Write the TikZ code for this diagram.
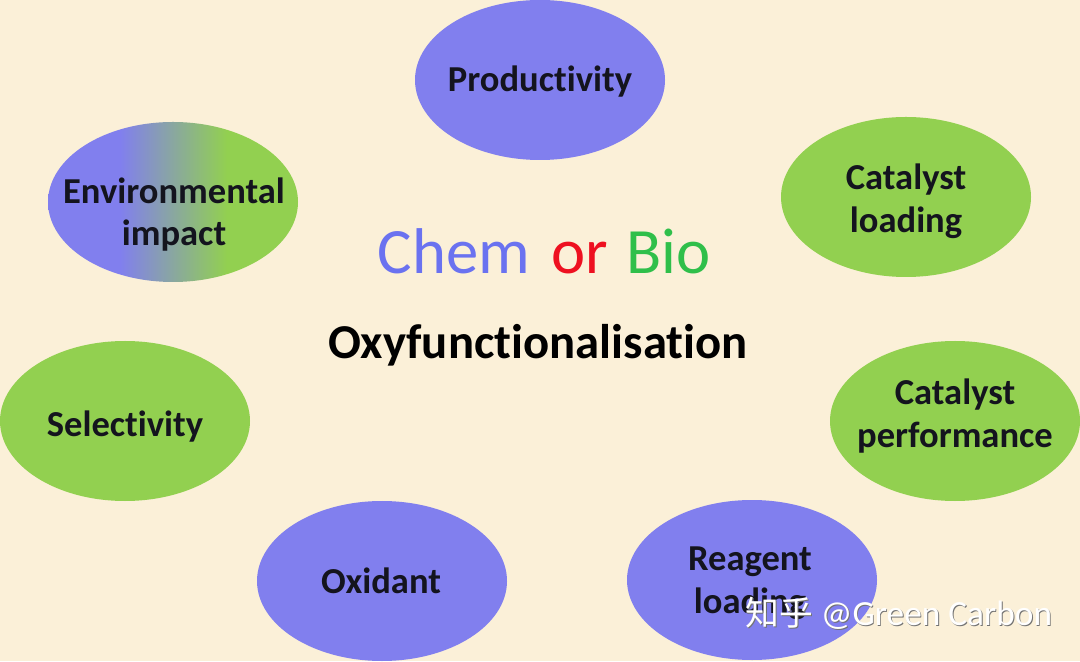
\documentclass[tikz,border=0pt]{standalone}
\usepackage{fontspec}
\setmainfont[Ligatures=NoCommon]{Carlito}
\newfontfamily\cjkfont{Noto Sans CJK SC}
\usetikzlibrary{shapes.geometric}
\definecolor{paper}{HTML}{FBF0D8}
\definecolor{oxblue}{HTML}{817FEE}
\definecolor{oxgreen}{HTML}{92D050}
\definecolor{chemblue}{HTML}{6A72F0}
\definecolor{orred}{HTML}{EE1020}
\definecolor{biogreen}{HTML}{2FBF4A}
\definecolor{labelink}{HTML}{14141E}
\pgfdeclarehorizontalshading{envshade}{100bp}{color(0bp)=(oxblue); color(39.4bp)=(oxblue); color(60.8bp)=(oxgreen); color(100bp)=(oxgreen)}
\newcommand{\marktext}[1]{\rlap{\kern0.25pt\raisebox{-0.25pt}{\textcolor{black!55}{#1}}}#1}
\tikzset{
  topic/.style={ellipse, minimum width=2.5cm, minimum height=1.6cm, inner sep=0pt},
  bluetopic/.style={topic, fill=oxblue},
  greentopic/.style={topic, fill=oxgreen},
  topiclabel/.style={align=center, inner sep=0pt, text=labelink, font=\fontsize{10.4}{12.2}\selectfont\bfseries}
}
\begin{document}
\begin{tikzpicture}
    \useasboundingbox (0, 0) rectangle (10.8, 6.61);
    \fill[paper] (0, 0) rectangle (10.8, 6.61);
    \node[bluetopic] (productivity) at (5.4, 5.81) {};
    \node[greentopic] (catalystloading) at (9.06, 4.64) {};
    \node[greentopic] (performance) at (9.55, 2.4) {};
    \node[bluetopic] (reagent) at (7.52, 0.81) {};
    \node[bluetopic] (oxidant) at (3.82, 0.8) {};
    \node[greentopic] (selectivity) at (1.25, 2.4) {};
    \node[topic, shading=envshade] (environment) at (1.73, 4.59) {};
    \node[topiclabel] (productivitytext) at (5.4, 5.79) {Productivity};
    \node[topiclabel] (catalystloadingtext) at (9.06, 4.6) {Catalyst\\loading};
    \node[topiclabel] (performancetext) at (9.55, 2.45) {Catalyst\\performance};
    \node[topiclabel] (reagenttext) at (7.5, 0.78) {Reagent\\loading};
    \node[topiclabel] (oxidanttext) at (3.81, 0.8) {Oxidant};
    \node[topiclabel] (selectivitytext) at (1.25, 2.34) {Selectivity};
    \node[topiclabel] (environmenttext) at (1.74, 4.465) {Environmental\\impact};
    % centre title
    \node[font=\fontsize{18.4}{20}\selectfont] (chem) at (5.44, 4.1) {\textcolor{chemblue}{Chem}\hspace{0.33em}\textcolor{orred}{or}\hspace{0.28em}\textcolor{biogreen}{Bio}};
    \node[font=\fontsize{13.85}{16}\selectfont\bfseries, text=black] (oxy) at (5.38, 3.16) {Oxyfunctionalisation};
    % watermark
    \node[font=\fontsize{10.05}{11}\selectfont, text=white, anchor=west, inner sep=0pt] (mark) at (7.45, 0.47) {\marktext{{\cjkfont\fontsize{9.6}{11}\selectfont 知乎}\hspace{0.22em}@Green Carbon}};
\end{tikzpicture}
\end{document}
